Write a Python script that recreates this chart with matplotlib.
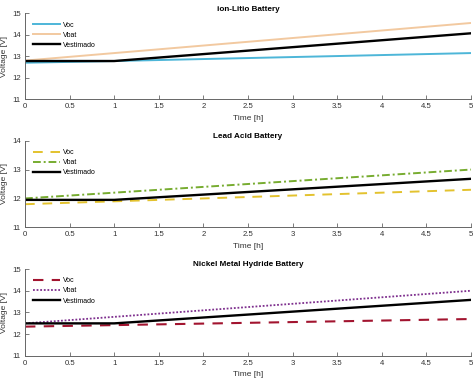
import matplotlib
matplotlib.use("Agg")
import matplotlib.pyplot as plt

plt.rcParams['font.family'] = ['Liberation Sans', 'DejaVu Sans']

time = [0, 1, 5]
titles = ["ion-Litio Battery", "Lead Acid Battery", "Nickel Metal Hydride Battery"]
series_names = ["Voc", "Vbat", "Vestimado"]

li_voc = [12.70, 12.78, 13.15]
li_vbat = [12.80, 13.15, 14.55]
li_vest = [12.78, 12.78, 14.07]

pb_voc = [11.80, 11.90, 12.30]
pb_vbat = [12.00, 12.20, 13.00]
pb_vest = [11.95, 11.95, 12.68]

ni_voc = [12.35, 12.42, 12.70]
ni_vbat = [12.50, 12.80, 14.00]
ni_vest = [12.50, 12.50, 13.58]

ylims = [(11, 15), (11, 14), (11, 15)]
yticks = [[11, 12, 13, 14, 15], [11, 12, 13, 14], [11, 12, 13, 14, 15]]
xticks = [0, 0.5, 1, 1.5, 2, 2.5, 3, 3.5, 4, 4.5, 5]

data = [(li_voc, li_vbat, li_vest), (pb_voc, pb_vbat, pb_vest), (ni_voc, ni_vbat, ni_vest)]
styles = [
    [dict(color="#4DB6D8", ls="-", lw=1.4), dict(color="#F2C9A0", ls="-", lw=1.4), dict(color="black", ls="-", lw=1.7)],
    [dict(color="#E3C22E", ls=(0, (5, 4)), lw=1.4), dict(color="#77AC30", ls=(0, (4, 1.5, 1, 1.5)), lw=1.4), dict(color="black", ls="-", lw=1.7)],
    [dict(color="#A2142F", ls=(0, (5, 4)), lw=1.5), dict(color="#7E2F8E", ls=(0, (1, 1)), lw=1.3), dict(color="black", ls="-", lw=1.7)],
]

W, H = 474, 381
fig = plt.figure(figsize=(W / 100, H / 100), dpi=100)
fig.patch.set_facecolor("white")

boxes = [(13.3, 99.3), (140.7, 227.3), (269.0, 356.0)]
left, right = 25, 471

for i, (top, bot) in enumerate(boxes):
    ax = fig.add_axes([left / W, 1 - bot / H, (right - left) / W, (bot - top) / H])
    for name, vals, st in zip(series_names, data[i], styles[i]):
        ax.plot(time, vals, label=name, **st)
    ax.set_xlim(0, 5)
    ax.set_ylim(*ylims[i])
    ax.set_xticks(xticks)
    ax.set_xticklabels([f"{x:g}" for x in xticks])
    ax.set_yticks(yticks[i])
    ax.spines['top'].set_visible(False)
    ax.spines['right'].set_visible(False)
    for s in ['left', 'bottom']:
        ax.spines[s].set_color('#666666')
        ax.spines[s].set_linewidth(0.7)
    ax.tick_params(direction='in', length=3, width=0.6, colors='#666666', labelsize=5.6, labelcolor='#333333', pad=3)
    ax.set_title(titles[i], fontsize=5.9, fontweight='bold', pad=2)
    ax.set_xlabel("Time [h]", fontsize=6.0, color='#333333', labelpad=3)
    ax.set_ylabel("Voltage [V]", fontsize=6.0, color='#333333', labelpad=3)
    ax.legend(loc='upper left', frameon=False, fontsize=5.0, handlelength=3.9,
              labelspacing=0.45, borderaxespad=0.8, handletextpad=0.3)

fig.savefig("out.png", dpi=100)
